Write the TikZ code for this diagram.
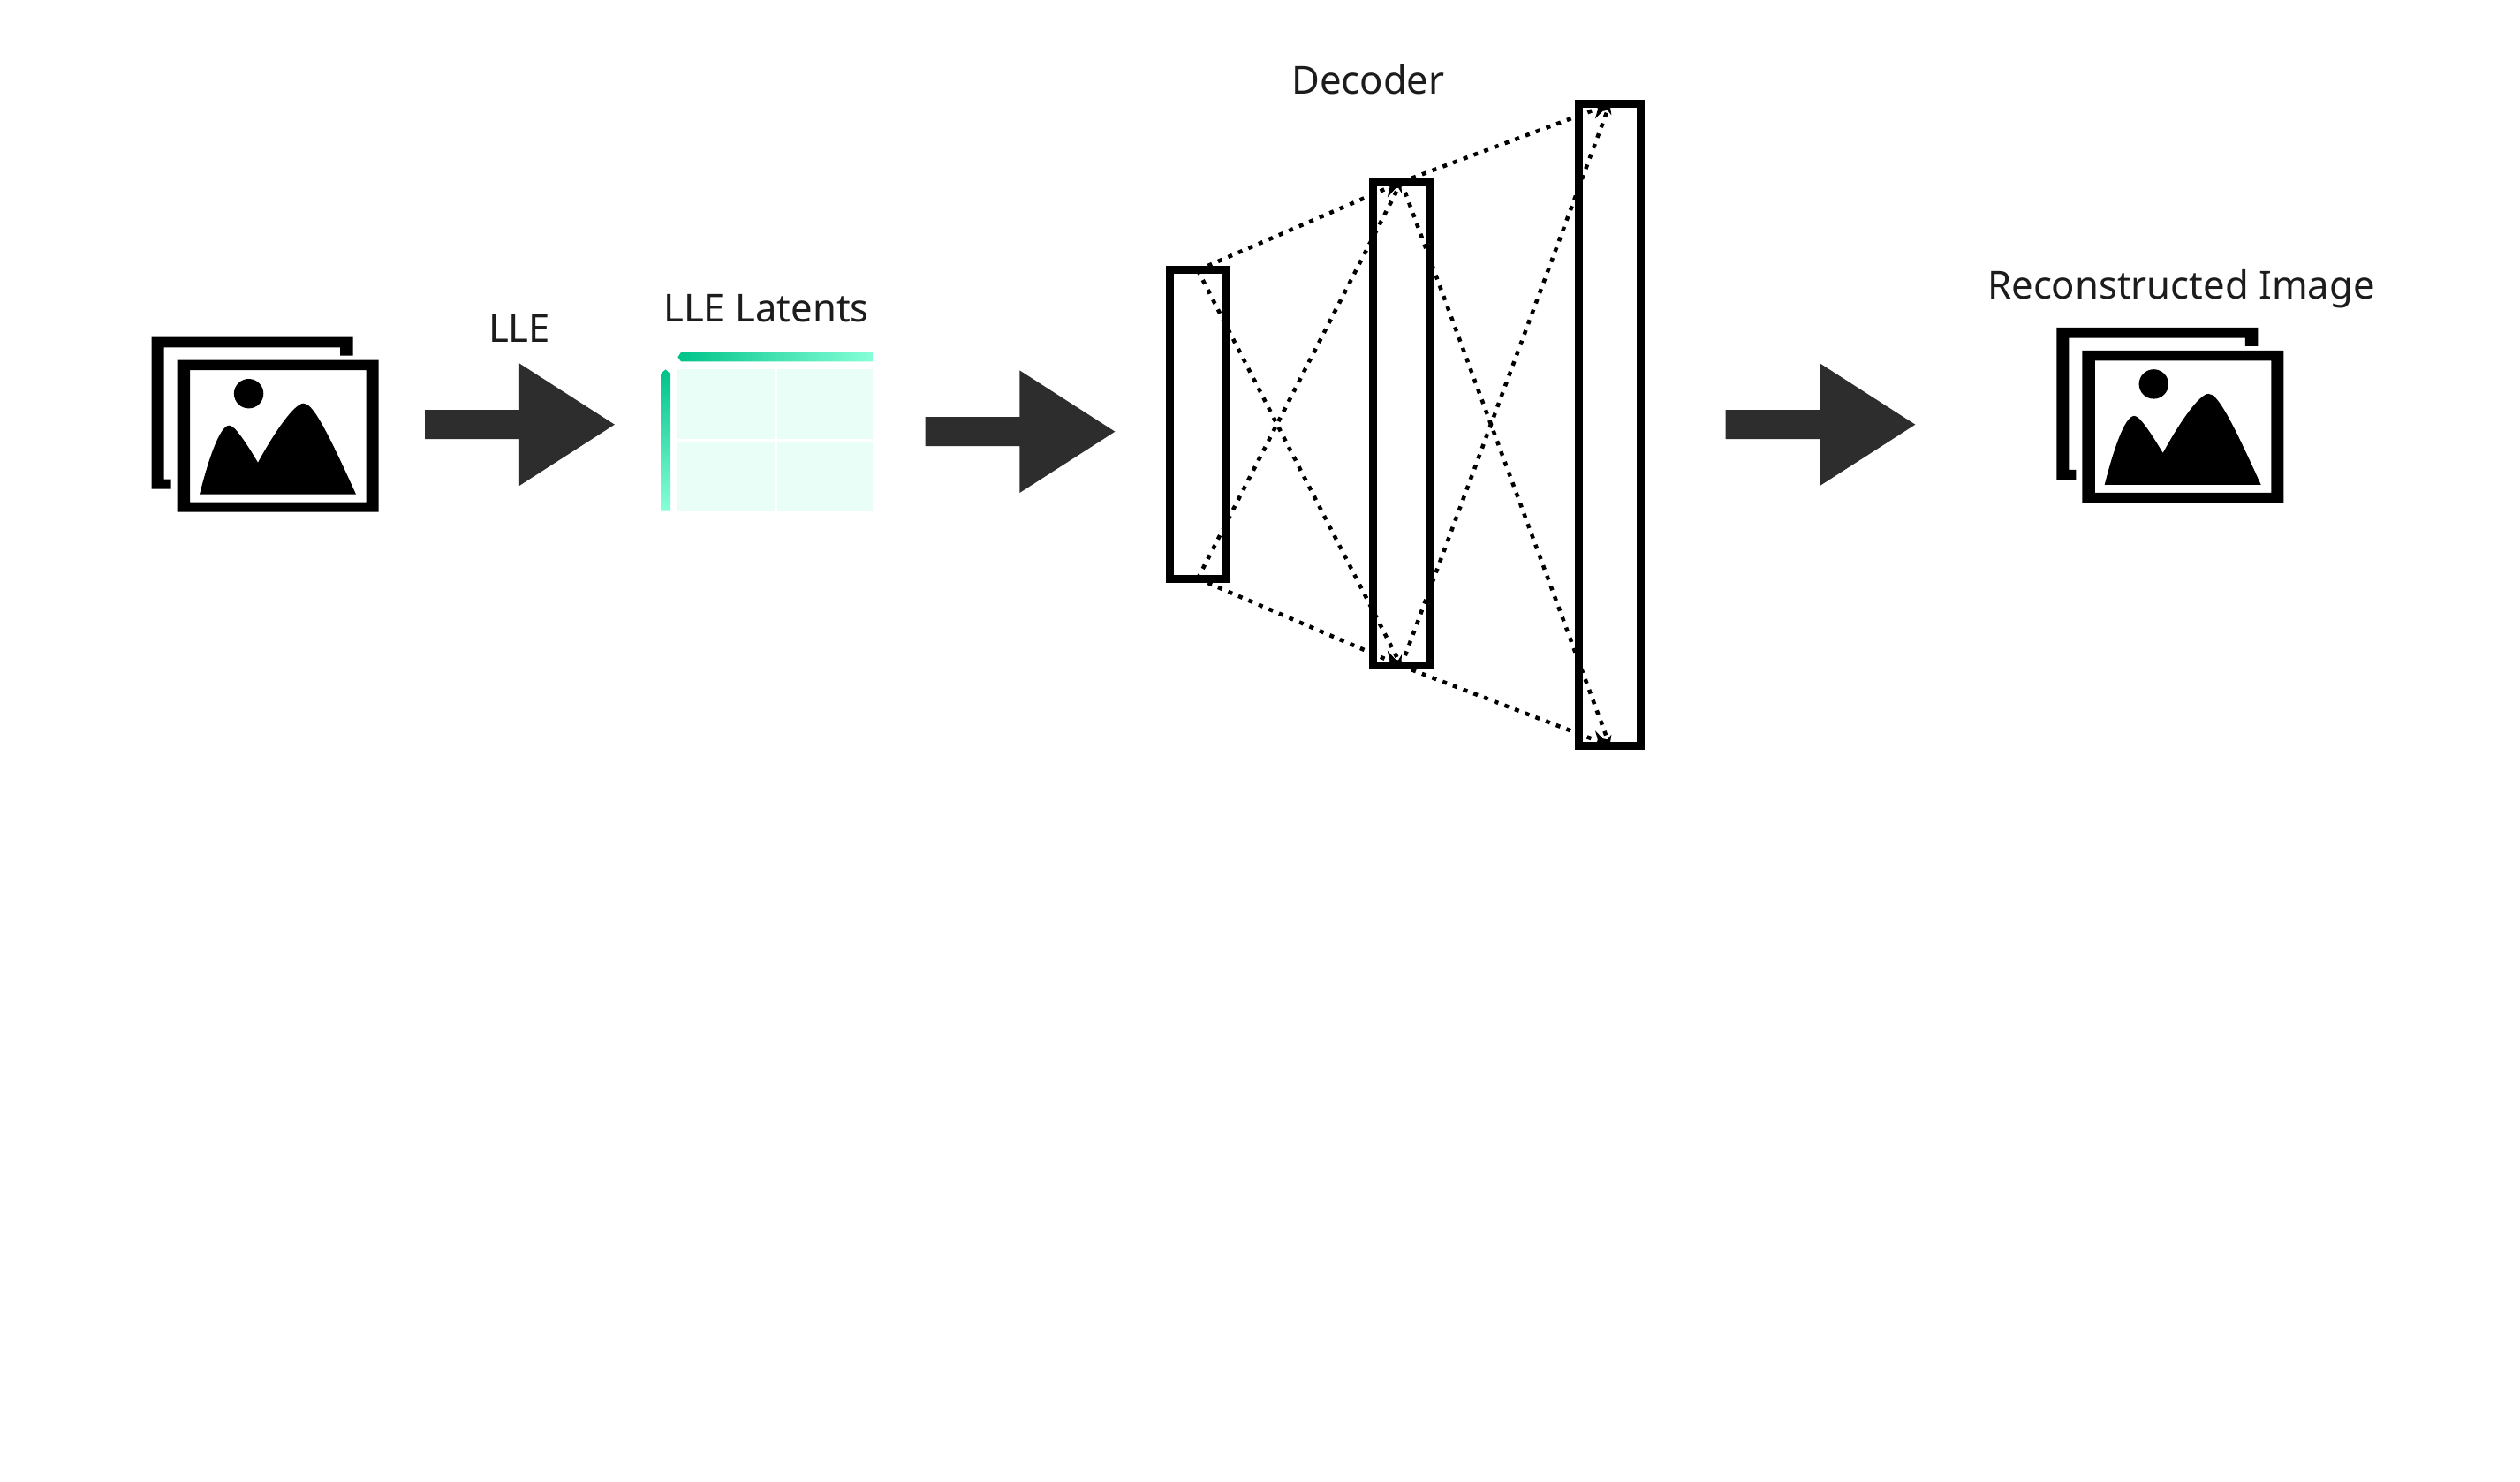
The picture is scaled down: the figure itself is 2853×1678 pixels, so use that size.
\documentclass[tikz,border=0pt]{standalone}
\usepackage{fontspec}
\setmainfont{Noto Sans}
\usetikzlibrary{arrows.meta,shapes.arrows}
\definecolor{inkblack}{HTML}{000000}
\definecolor{arrowgrey}{HTML}{2D2D2D}
\definecolor{labelgrey}{HTML}{1C1C1C}
\definecolor{cellmint}{HTML}{E8FEF6}
\definecolor{bardark}{HTML}{00C389}
\definecolor{barlight}{HTML}{86FFD8}
\tikzset{
  label/.style={text=labelgrey,font=\fontsize{12.4}{15}\selectfont,anchor=base,inner sep=0pt},
  blockarrow/.style={single arrow,fill=arrowgrey,draw=none,inner xsep=0pt,inner ysep=0.158cm,outer sep=0pt,
    minimum height=2.147cm,single arrow head extend=0.527cm,
    single arrow tip angle=65.4,anchor=tail},
  layerbox/.style={draw=inkblack,line width=0.09cm,inner sep=0pt,outer sep=0pt},
  wire/.style={-{Stealth[length=0.21cm,width=0.19cm]},line width=0.045cm,draw=inkblack,
    dash pattern=on 0.05cm off 0.075cm},
  crosswire/.style={wire,-{Stealth[length=0.11cm,width=0.12cm]}},
  pics/photostack/.style={code={
    \fill[inkblack] (0,0) -- (228,0) -- (228,21) -- (213.5,21) -- (213.5,11.7) -- (14,11.7)
      -- (14,161) -- (22,161) -- (22,172) -- (0,172) -- cycle;
    \fill[inkblack,even odd rule] (29,26) rectangle (257,198) (43.6,37.4) rectangle (243,187);
    \fill[inkblack] (110,64) circle [radius=16.7];
    \fill[inkblack] (54.4,178) .. controls (64,140) and (77,100) .. (88,100)
      .. controls (94,100) and (106,118) .. (120.4,142)
      .. controls (140,106) and (162,75) .. (172,75)
      .. controls (182,75) and (196,100) .. (231.4,178) -- cycle;
  }}
}
\begin{document}
\begin{tikzpicture}[x=0.01cm,y=-0.01cm]
    \useasboundingbox (0,0) rectangle (2853,1678);
    \fill[white] (0,0) rectangle (2853,1678);

    % input and output images
    \pic at (171.6,381.7) {photostack};
    \pic at (2328.3,370.9) {photostack};

    % big arrows
    \node[blockarrow] (arrowlle) at (481,480.7) {};
    \node[blockarrow] (arrowlatent) at (1047.5,488.7) {};
    \node[blockarrow] (arrowout) at (1953.5,480.7) {};

    % latent grid
    \fill[cellmint] (767.4,418.3) rectangle (876.5,496.7);
    \fill[cellmint] (880,418.3) rectangle (987.9,496.7);
    \fill[cellmint] (767.4,500) rectangle (876.5,578.7);
    \fill[cellmint] (880,500) rectangle (987.9,578.7);
    \shade[left color=bardark,right color=barlight] (771,399) -- (987.9,399) -- (987.9,409.3)
      -- (771,409.3) -- (767.4,404.2) -- cycle;
    \shade[top color=bardark,bottom color=barlight] (748,423.5) -- (753.5,418.3) -- (759,423.5)
      -- (759,578.7) -- (748,578.7) -- cycle;

    % decoder
    \node[layerbox,minimum width=0.62cm,minimum height=3.49cm] (layera) at (1356,480.5) {};
    \node[layerbox,minimum width=0.63cm,minimum height=5.475cm] (layerb) at (1586.5,480) {};
    \node[layerbox,minimum width=0.69cm,minimum height=7.26cm] (layerc) at (1822.5,481) {};
    \draw[wire] (layera.north) -- (layerb.north);
    \draw[crosswire] (layera.north) -- (layerb.south);
    \draw[crosswire] (layera.south) -- (layerb.north);
    \draw[wire] (layera.south) -- (layerb.south);
    \draw[wire] (layerb.north) -- (layerc.north);
    \draw[crosswire] (layerb.north) -- (layerc.south);
    \draw[crosswire] (layerb.south) -- (layerc.north);
    \draw[wire] (layerb.south) -- (layerc.south);

    % labels
    \node[label] (lblle) at (588,387.5) {LLE};
    \node[label] (lblatents) at (867.5,364.5) {LLE Latents};
    \node[label] (lbdecoder) at (1549,106) {Decoder};
    \node[label] (lbimage) at (2469.5,338.5) {Reconstructed Image};
\end{tikzpicture}
\end{document}
